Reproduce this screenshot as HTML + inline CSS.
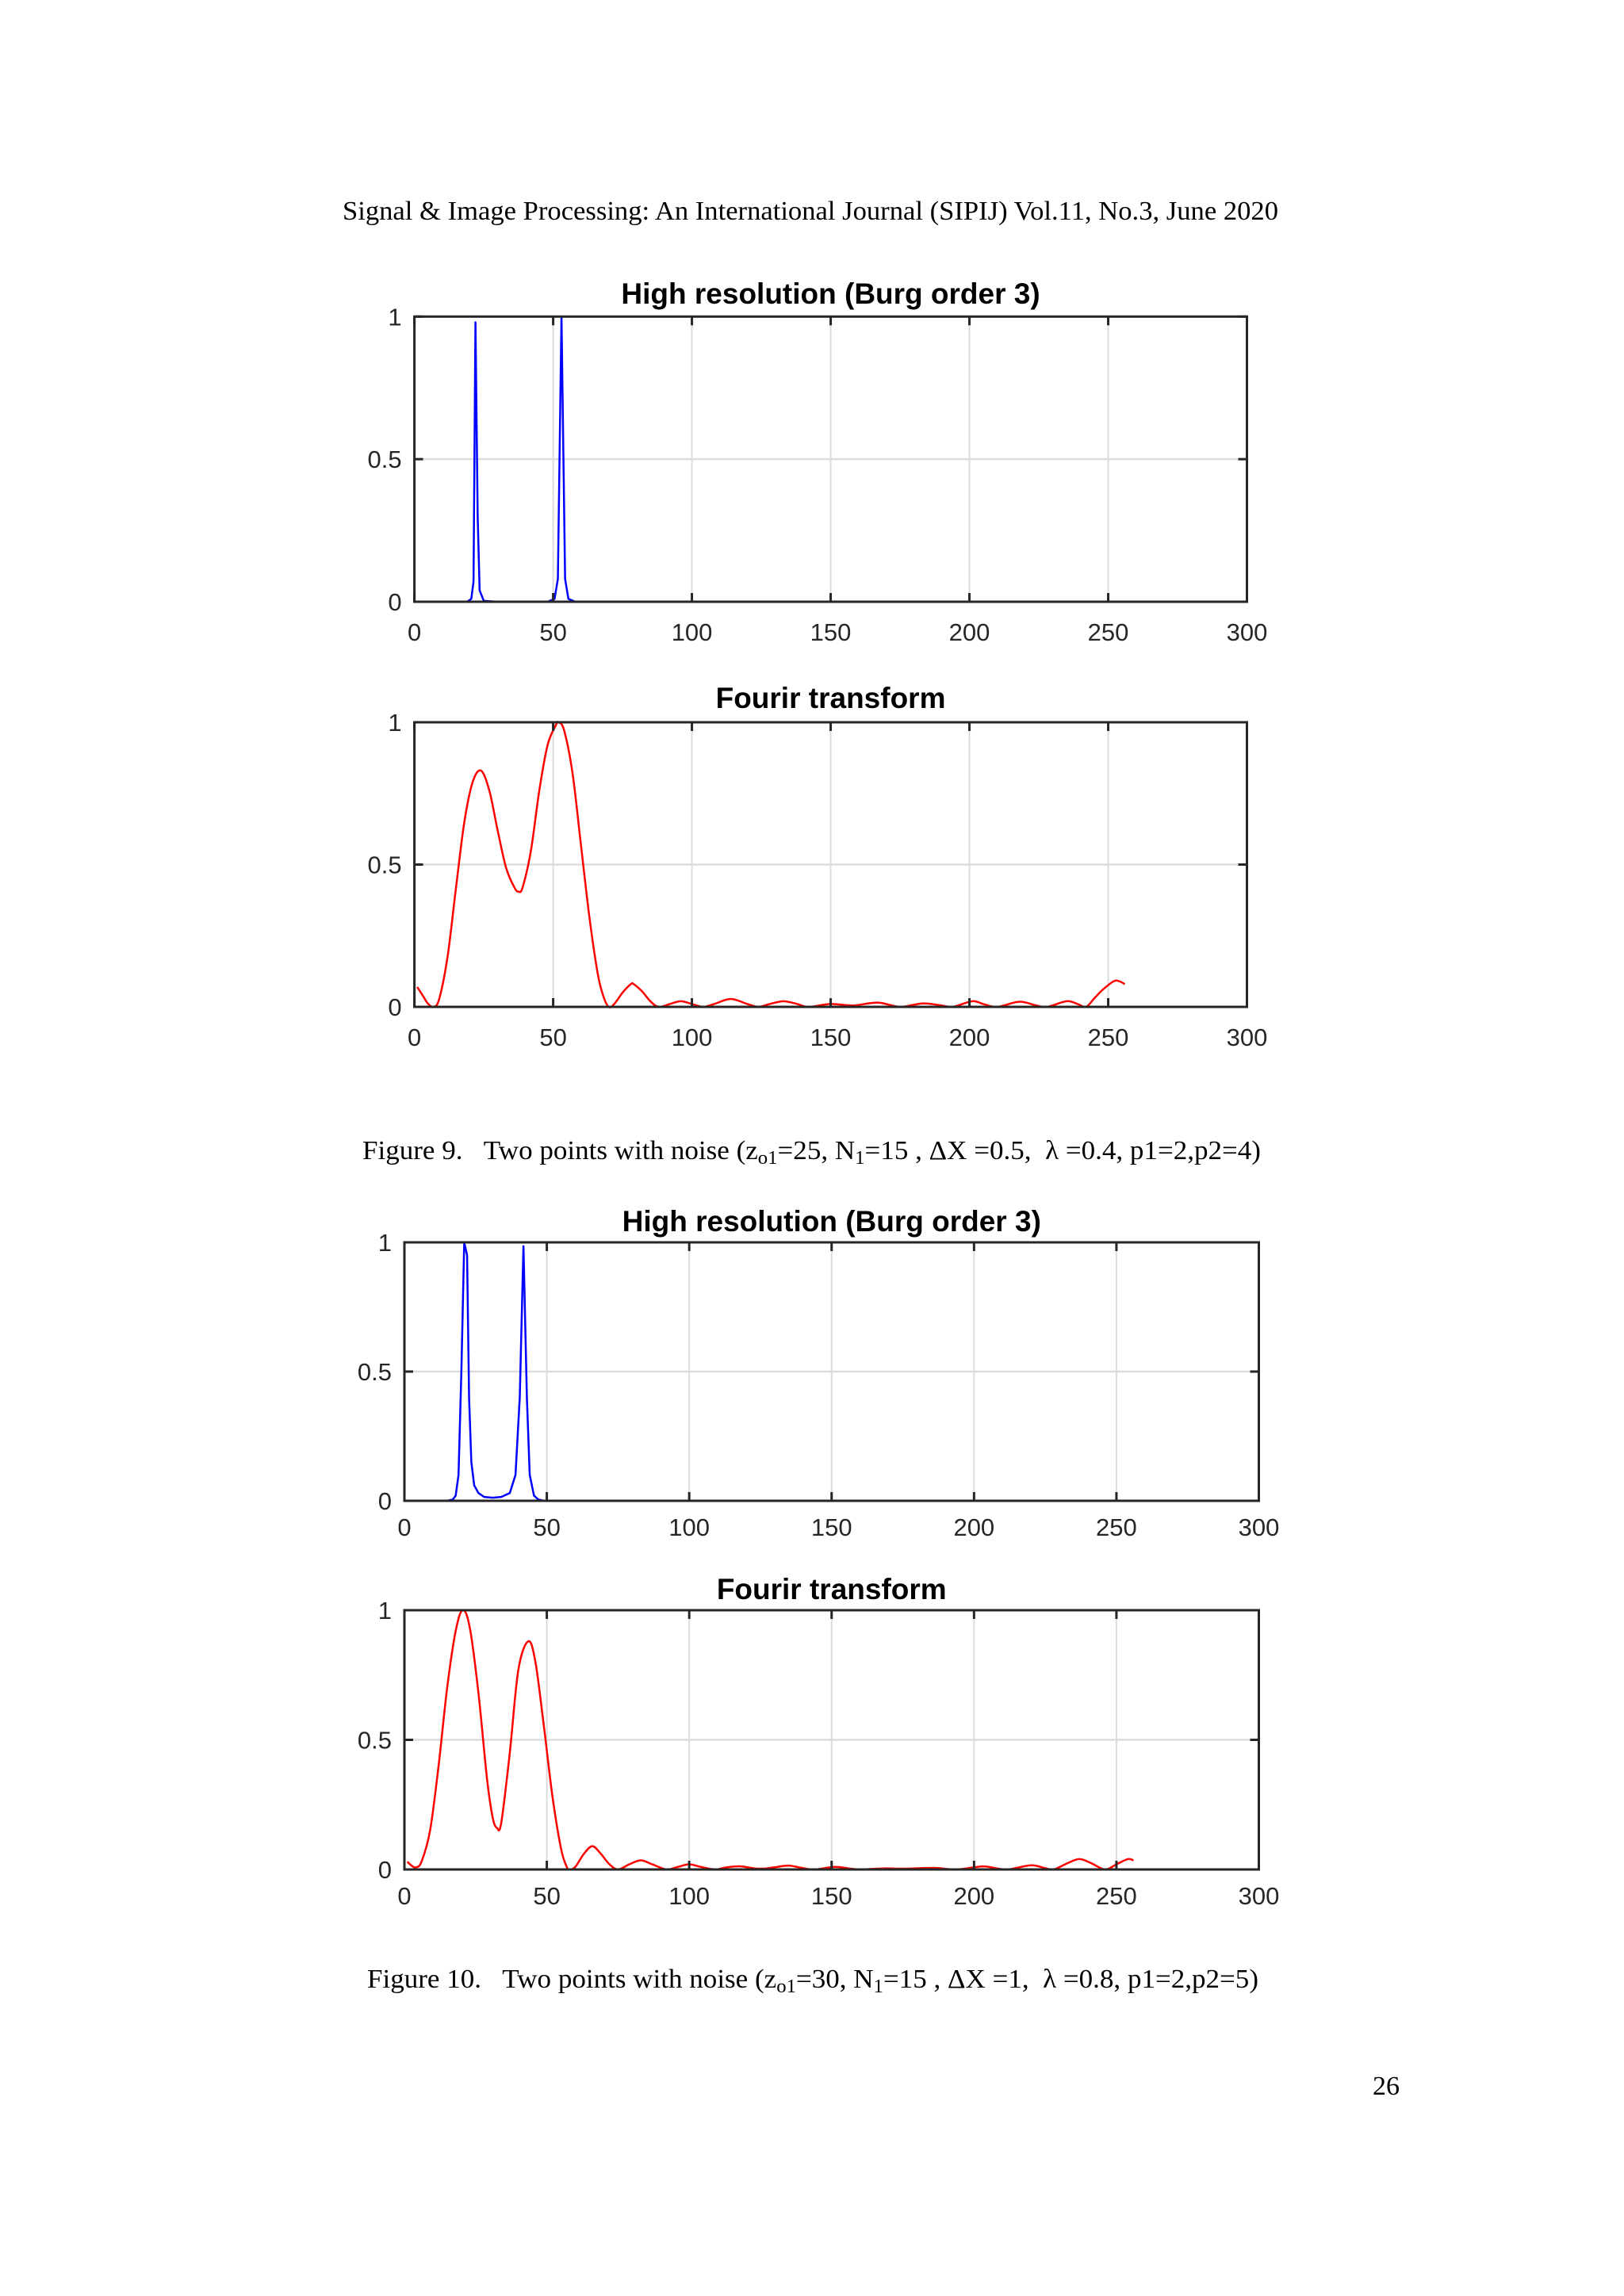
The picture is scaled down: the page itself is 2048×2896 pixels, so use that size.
<!DOCTYPE html>
<html><head><meta charset="utf-8">
<style>
html,body{margin:0;padding:0;background:#fff;}
svg{display:block;}
.tk{font-family:"Liberation Sans",Arial,sans-serif;font-size:31px;fill:#262626;}
.ttl{font-family:"Liberation Sans",Arial,sans-serif;font-size:37px;font-weight:bold;fill:#000;}
.ser{font-family:"Liberation Serif","Times New Roman",serif;fill:#000;white-space:pre;}
</style></head>
<body>
<svg id="page" width="2048" height="2896" viewBox="0 0 2048 2896" xmlns="http://www.w3.org/2000/svg">
<rect width="2048" height="2896" fill="#fff"/>
<text class="ser" x="432" y="277" font-size="34" textLength="1180" lengthAdjust="spacingAndGlyphs">Signal &amp; Image Processing: An International Journal (SIPIJ) Vol.11, No.3, June 2020</text>
<text class="ser" x="457" y="1462" font-size="34" textLength="1133" lengthAdjust="spacingAndGlyphs">Figure 9.&#160;&#160;&#160;Two points with noise (z<tspan font-size="24" dy="6">o1</tspan><tspan dy="-6">=25, N</tspan><tspan font-size="24" dy="6">1</tspan><tspan dy="-6">=15 , ΔX =0.5,&#160;&#160;λ =0.4, p1=2,p2=4)</tspan></text>
<text class="ser" x="463" y="2507" font-size="34" textLength="1124" lengthAdjust="spacingAndGlyphs">Figure 10.&#160;&#160;&#160;Two points with noise (z<tspan font-size="24" dy="6">o1</tspan><tspan dy="-6">=30, N</tspan><tspan font-size="24" dy="6">1</tspan><tspan dy="-6">=15 , ΔX =1,&#160;&#160;λ =0.8, p1=2,p2=5)</tspan></text>
<text class="ser" x="1731" y="2642" font-size="34">26</text>
<g id="charts"></g>
</svg>
<script>
const xTicks = [0,50,100,150,200,250,300];
const yTicks = [0,0.5,1];
const xTickLabels = ["0","50","100","150","200","250","300"];
const yTickLabels = ["0","0.5","1"];
const titles = ["High resolution (Burg order 3)","Fourir transform","High resolution (Burg order 3)","Fourir transform"];

const fig9BurgX = [0,19,20.5,21.3,22,22.8,23.5,25,30,48,50.5,51.7,53,54.3,55.5,58,256];
const fig9BurgY = [0,0,0.01,0.07,0.98,0.3,0.04,0.003,0,0,0.01,0.08,1.0,0.08,0.01,0,0];

const fig9FftX = [1,3,5,7,9,12,15,18,21,24,27,30,33,36,37.5,39,42,45,48,51,52,54,57,60,63,66,68,70,72,75,78,79,82,85,88,92,96,100,104,108,114,120,124,128,133,138,142,150,158,167,175,183,190,194,201,205,210,218,224,228,235,239,242,245,248,252,254,256];
const fig9FftY = [0.07,0.04,0.01,0,0.03,0.18,0.42,0.65,0.79,0.83,0.76,0.62,0.49,0.42,0.405,0.42,0.55,0.76,0.92,0.99,1.0,0.97,0.82,0.57,0.32,0.12,0.04,0,0.01,0.05,0.08,0.08,0.055,0.02,0,0.01,0.02,0.01,0,0.01,0.028,0.01,0,0.01,0.02,0.01,0,0.01,0.005,0.015,0,0.012,0.005,0,0.02,0.01,0,0.018,0.005,0,0.02,0.01,0,0.03,0.06,0.09,0.09,0.08];

const fig10BurgX = [0,15,17,18,19,20,21,22,22.7,23.5,24.5,26,28,31,34,37,39,40.5,41.8,43,44,45.5,47,49,256];
const fig10BurgY = [0,0,0.005,0.02,0.1,0.5,1.0,0.95,0.4,0.15,0.06,0.03,0.015,0.012,0.015,0.03,0.1,0.4,0.985,0.4,0.1,0.02,0.005,0,0];

const fig10FftX = [1,2.5,4,6,9,12,15,18,20.5,23,26,29,31,32.5,34,37,40,43.5,46,49,52,55,57,58,60,63,66,69,72,75,79,83,87,92,96,100,104,109,113,118,123,127,131,135,140,144,151,156,160,168,176,186,194,203,208,212,220,225,228,233,237,241,246,250,254,256];
const fig10FftY = [0.03,0.015,0.008,0.03,0.15,0.4,0.7,0.92,1.0,0.93,0.68,0.35,0.2,0.16,0.18,0.45,0.77,0.88,0.8,0.55,0.28,0.08,0.01,0,0.01,0.06,0.09,0.06,0.02,0,0.02,0.035,0.02,0,0.01,0.02,0.01,0,0.008,0.012,0.004,0.004,0.01,0.015,0.005,0,0.01,0.004,0,0.004,0.003,0.006,0,0.012,0.004,0,0.016,0.005,0,0.025,0.04,0.025,0,0.02,0.04,0.035];

const panels = [
 {L:522.6,R:1572.5,T:399.3,B:759,ty:383,ly:808,xs:fig9BurgX,ys:fig9BurgY,color:"#0000ff",smooth:false,name:"fig9-burg"},
 {L:522.6,R:1572.5,T:911,B:1270,ty:893,ly:1319,xs:fig9FftX,ys:fig9FftY,color:"#ff0000",smooth:true,name:"fig9-fourier"},
 {L:510,R:1587.5,T:1567,B:1893,ty:1553,ly:1937,xs:fig10BurgX,ys:fig10BurgY,color:"#0000ff",smooth:false,name:"fig10-burg"},
 {L:510,R:1587.5,T:2031,B:2358,ty:2017,ly:2402,xs:fig10FftX,ys:fig10FftY,color:"#ff0000",smooth:true,name:"fig10-fourier"}
];
const NS="http://www.w3.org/2000/svg";
const root=document.getElementById('charts');
function mk(tag,attrs,parent){const e=document.createElementNS(NS,tag);for(const k in attrs)e.setAttribute(k,attrs[k]);parent.appendChild(e);return e;}
panels.forEach((p,i)=>{
  const g=mk('g',{},root);
  
  
  const sx=v=>p.L+(v-0)/(300-0)*(p.R-p.L);
  const sy=v=>p.B-(v-0)/(1-0)*(p.B-p.T);
  xTicks.forEach(t=>{ if(t>0&&t<300){const l=mk('line',{x1:sx(t),x2:sx(t),y1:p.T,y2:p.B,stroke:"#dcdcdc","stroke-width":2},g);
    
    }});
  yTicks.forEach(t=>{ if(t>0&&t<1){const l=mk('line',{x1:p.L,x2:p.R,y1:sy(t),y2:sy(t),stroke:"#dcdcdc","stroke-width":2.5},g);
    
    }});
  const pts=p.xs.map((x,k)=>[sx(x),sy(p.ys[k])]);
  let d="M"+pts[0][0].toFixed(2)+","+pts[0][1].toFixed(2);
  if(!p.smooth){for(let k=1;k<pts.length;k++)d+=" L"+pts[k][0].toFixed(2)+","+pts[k][1].toFixed(2);}
  else{for(let k=0;k<pts.length-1;k++){const p0=pts[Math.max(0,k-1)],p1=pts[k],p2=pts[k+1],p3=pts[Math.min(pts.length-1,k+2)];
    const c1=[p1[0]+(p2[0]-p0[0])/6,p1[1]+(p2[1]-p0[1])/6],c2=[p2[0]-(p3[0]-p1[0])/6,p2[1]-(p3[1]-p1[1])/6];
    d+=" C"+c1[0].toFixed(2)+","+c1[1].toFixed(2)+" "+c2[0].toFixed(2)+","+c2[1].toFixed(2)+" "+p2[0].toFixed(2)+","+p2[1].toFixed(2);}}
  const path=mk('path',{d:d,fill:"none",stroke:p.color,"stroke-width":2.5,"stroke-linejoin":"round"},g);
  
  
  const fr=mk('rect',{x:p.L,y:p.T,width:p.R-p.L,height:p.B-p.T,fill:"none",stroke:"#262626","stroke-width":3},g);
  
  
  xTicks.forEach((t,k)=>{
    mk('line',{x1:sx(t),x2:sx(t),y1:p.B,y2:p.B-11,stroke:"#262626","stroke-width":3},g);
    mk('line',{x1:sx(t),x2:sx(t),y1:p.T,y2:p.T+11,stroke:"#262626","stroke-width":3},g);
    const tx=mk('text',{x:sx(t),y:p.ly,"text-anchor":"middle",class:"tk"},g);
    tx.textContent=xTickLabels[k];
    
    
  });
  yTicks.forEach((t,k)=>{
    mk('line',{x1:p.L,x2:p.L+11,y1:sy(t),y2:sy(t),stroke:"#262626","stroke-width":3},g);
    mk('line',{x1:p.R,x2:p.R-11,y1:sy(t),y2:sy(t),stroke:"#262626","stroke-width":3},g);
    const tx=mk('text',{x:p.L-16,y:sy(t)+11,"text-anchor":"end",class:"tk"},g);
    tx.textContent=yTickLabels[k];
    
    
  });
  const tt=mk('text',{x:(p.L+p.R)/2,y:p.ty,"text-anchor":"middle",class:"ttl"},g);
  tt.textContent=titles[i];
  
  
});
</script>
</body></html>
